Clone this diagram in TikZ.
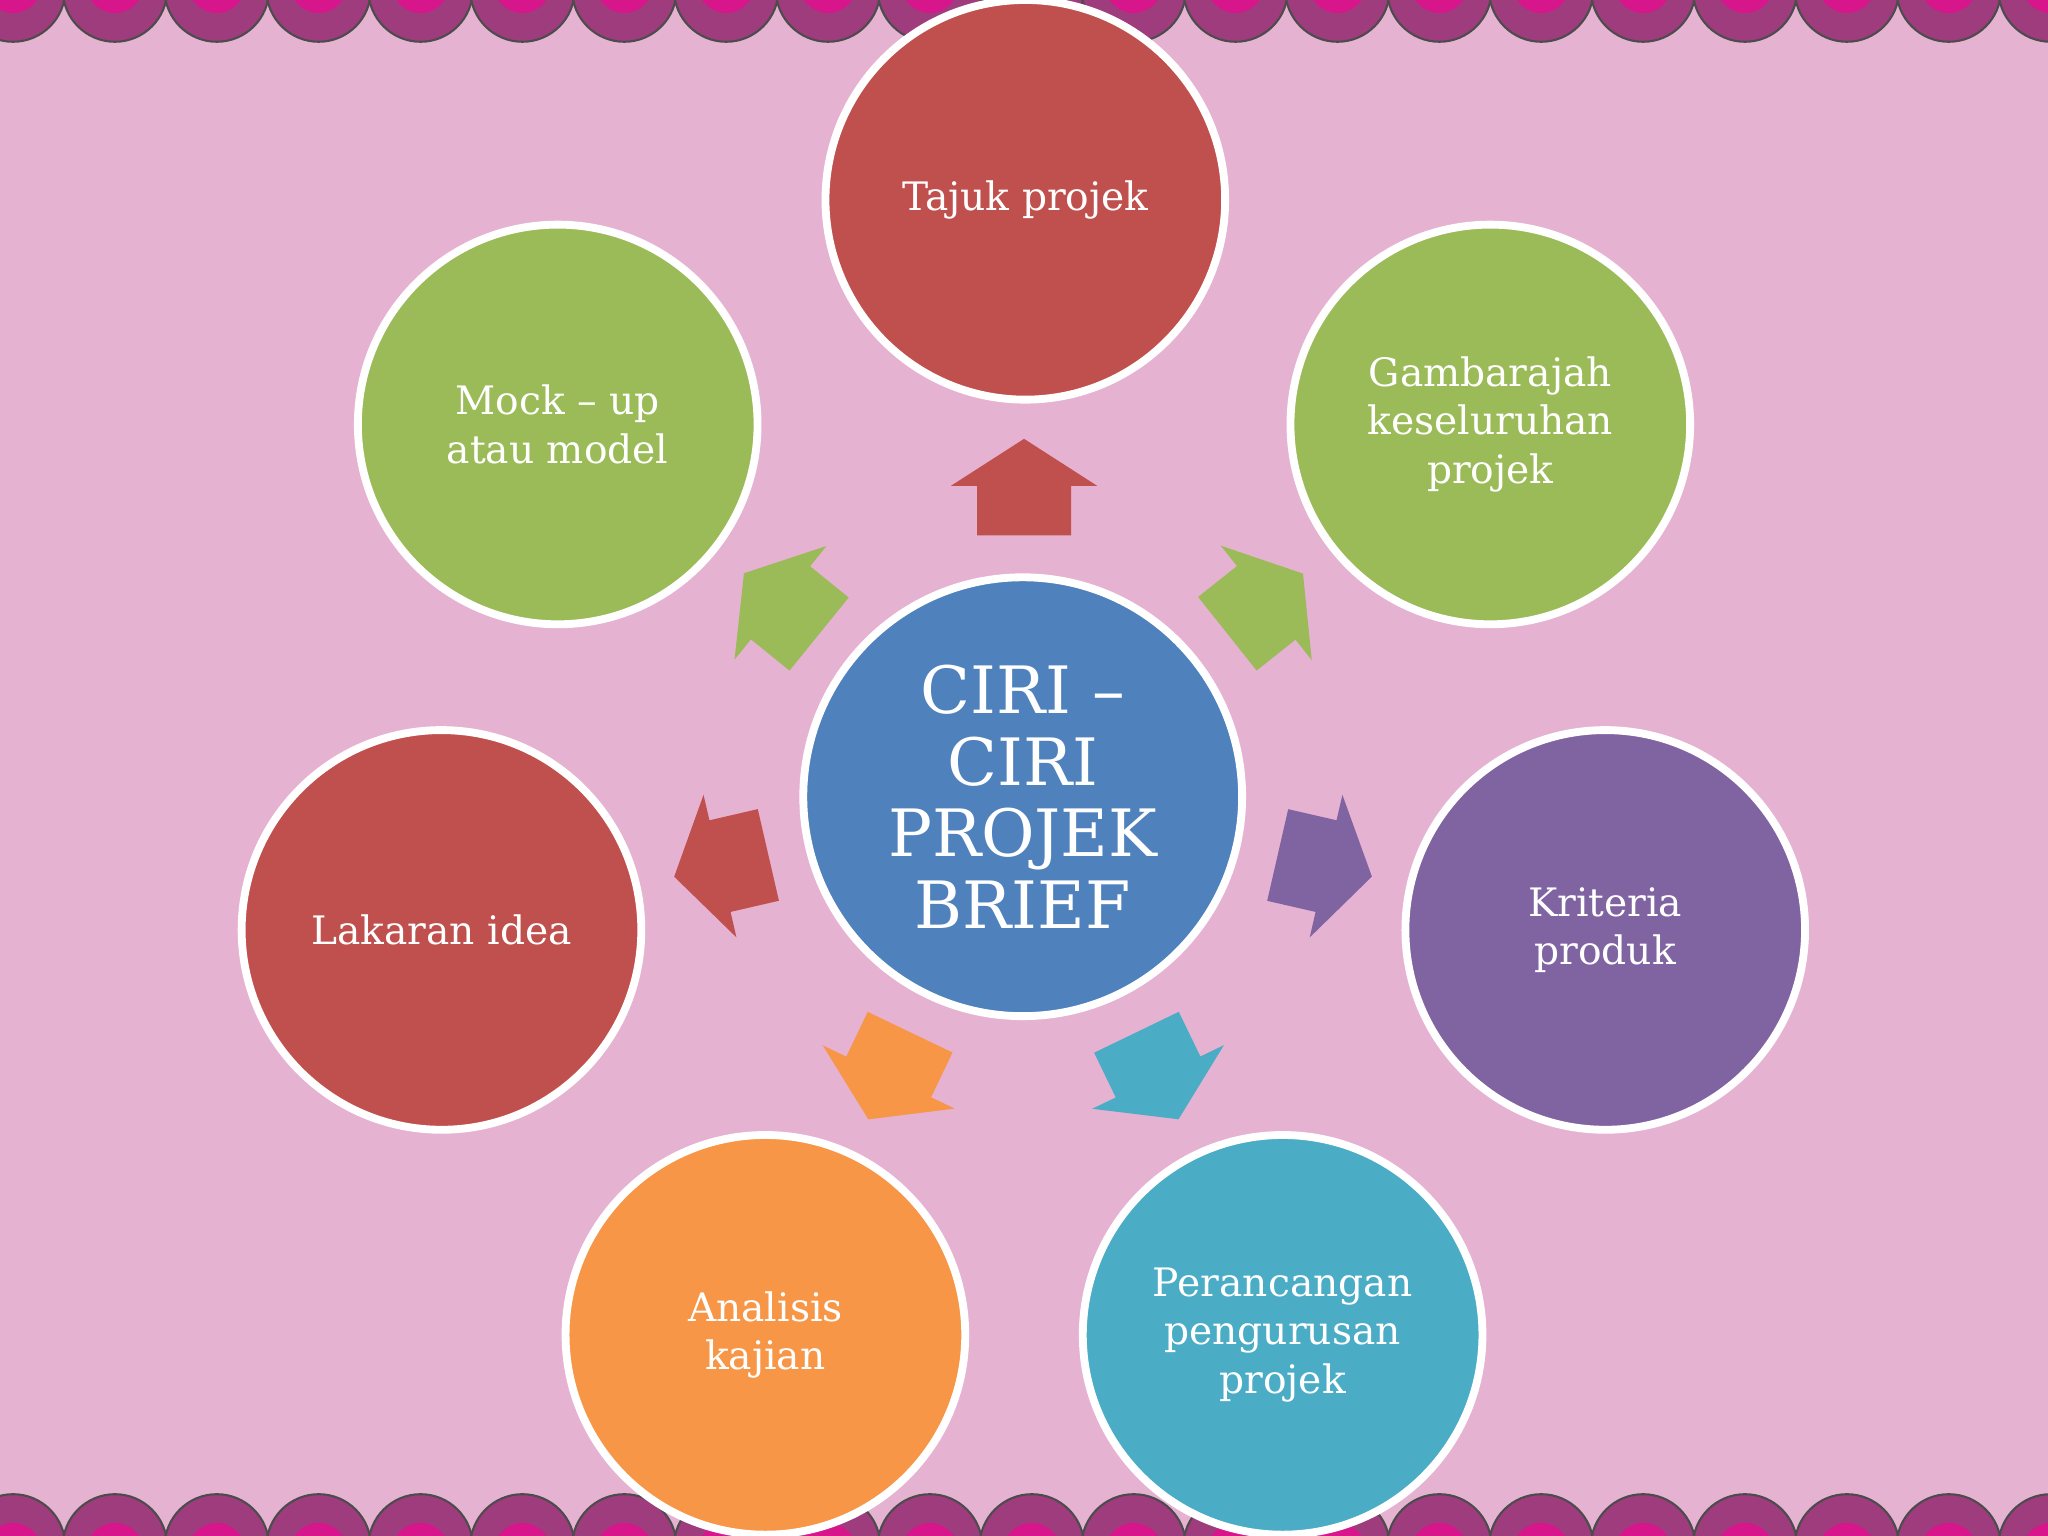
\documentclass[tikz,border=0pt]{standalone}
\usepackage{fontspec}
\setmainfont{DejaVu Serif}
\definecolor{bg}{HTML}{E6B2D2}
\definecolor{cred}{HTML}{C0504D}
\definecolor{cgreen}{HTML}{9BBB59}
\definecolor{cblue}{HTML}{4F81BD}
\definecolor{cpurple}{HTML}{8064A2}
\definecolor{corange}{HTML}{F79646}
\definecolor{caqua}{HTML}{4BACC6}
\definecolor{scal}{HTML}{9E3C7E}
\definecolor{scalin}{HTML}{D8168C}
\begin{document}
\begin{tikzpicture}[x=0.5pt,y=0.5pt,
  bub/.style={circle,draw=white,line width=3pt,minimum size=153pt,inner sep=0pt,text=white,align=center,font=\fontsize{15}{18.5}\selectfont},
  arr/.style={fill=#1}]
\useasboundingbox (0,0) rectangle (1568,1176);
\fill[bg] (0,0) rectangle (1568,1176);
\begin{scope}
\clip (0,0) rectangle (1568,1176);
\foreach \i in {0,...,20}{
  \fill[scal,draw=black!70,line width=0.8pt] (\i*78+10,1184) circle (40);
  \fill[scalin] (\i*78+10,1188) circle (22);
  \fill[scal,draw=black!70,line width=0.8pt] (\i*78+10,-8) circle (40);
  \fill[scalin] (\i*78+10,-12) circle (22);
}
\end{scope}
\node[bub,fill=cblue,minimum size=168pt,font=\fontsize{25}{27.5}\selectfont] (c) at (783,566) {CIRI –\\CIRI\\PROJEK\\BRIEF};
\node[bub,fill=cred] (t) at (785,1023) {Tajuk projek};
\node[bub,fill=cgreen] (m) at (427,851) {Mock – up\\atau model};
\node[bub,fill=cgreen] (g) at (1141,851) {Gambarajah\\keseluruhan\\projek};
\node[bub,fill=cred] (l) at (338,464) {Lakaran idea};
\node[bub,fill=cpurple] (k) at (1229,464) {Kriteria\\produk};
\node[bub,fill=corange] (a) at (586,154) {Analisis\\kajian};
\node[bub,fill=caqua] (p) at (982,154) {Perancangan\\pengurusan\\projek};
\foreach \t/\ang/\col in {t/90/cred, m/141/cgreen, g/38.5/cgreen, l/193/cred, k/-12.9/cpurple, a/244.4/corange, p/295.8/caqua}{
  \path (c) -- (\t) coordinate[pos=0.5] (mid\t);
  \begin{scope}[shift={(mid\t)},rotate=\ang]
    \fill[\col] (-36,-36) -- (2,-36) -- (2,-56) -- (38,0) -- (2,56) -- (2,36) -- (-36,36) -- cycle;
  \end{scope}
}
\end{tikzpicture}
\end{document}
